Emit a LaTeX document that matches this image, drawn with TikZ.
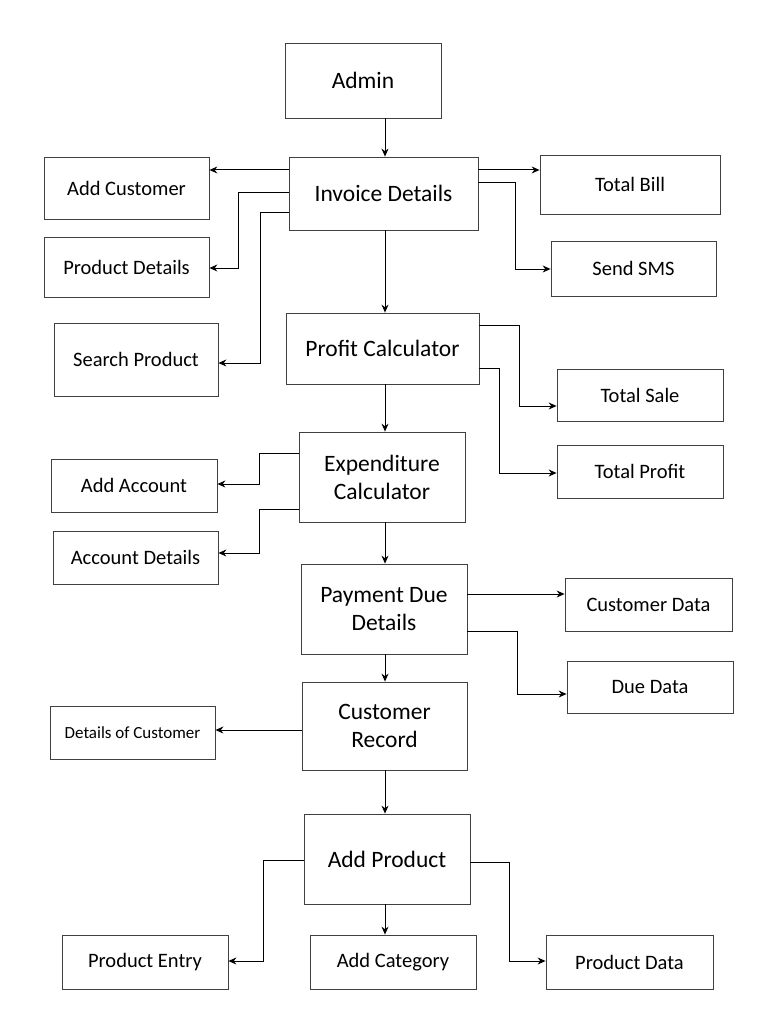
\documentclass[tikz,border=0pt]{standalone}
\usepackage{fontspec}
\setmainfont{Carlito}
\usetikzlibrary{arrows.meta}
\begin{document}
\begin{tikzpicture}[x=1pt,y=-1pt,
  box/.style={draw=black!75,line width=0.8pt,fill=white,align=center,inner sep=0pt},
  big/.style={font=\fontsize{23.5}{28}\selectfont},
  small/.style={font=\fontsize{20.5}{24}\selectfont},
  arr/.style={-{Stealth[length=8pt,width=7pt]},line width=1pt}]
\useasboundingbox (0,0) rectangle (768,1024);
\def\mk#1#2#3#4#5#6#7{\node[box,#6,minimum width={#4-#2},minimum height={#5-#3}] (#1) at ({(#2+#4)/2},{(#3+#5)/2}) {#7};}
\mk{admin}{285}{43}{441}{118}{big}{Admin}
\mk{inv}{289}{157}{478}{230}{big}{Invoice Details}
\mk{addc}{44}{157}{209}{219}{small}{Add Customer}
\mk{tbill}{540}{155}{720}{214}{small}{Total Bill}
\mk{pdet}{44}{237}{209}{297}{small}{Product Details}
\mk{sms}{551}{241}{716}{296}{small}{Send SMS}
\mk{search}{54}{323}{218}{396}{small}{Search Product}
\mk{profit}{286}{313}{479}{384}{big}{Profit Calculator}
\mk{tsale}{557}{369}{723}{421}{small}{Total Sale}
\mk{tprofit}{557}{445}{723}{498}{small}{Total Profit}
\mk{exp}{299}{432}{465}{522}{big}{Expenditure\\Calculator}
\mk{addacc}{51}{459}{217}{512}{small}{Add Account}
\mk{accdet}{53}{531}{218}{584}{small}{Account Details}
\mk{pay}{301}{564}{467}{654}{big}{Payment Due\\Details}
\mk{cdata}{565}{578}{732}{631}{small}{Customer Data}
\mk{ddata}{567}{661}{733}{713}{small}{Due Data}
\mk{crec}{302}{682}{467}{770}{big}{Customer\\Record}
\mk{dcust}{50}{706}{215}{759}{font=\fontsize{17}{20}\selectfont}{Details of Customer}
\mk{addp}{304}{814}{470}{904}{big}{Add Product}
\mk{pentry}{62}{935}{228}{989}{small}{Product Entry}
\mk{addcat}{310}{935}{476}{989}{small}{Add Category}
\mk{pdata}{546}{935}{713}{989}{small}{Product Data}
\draw[arr] (admin.south -| 385,0) -- (inv.north -| 385,0);
\draw[arr] (inv.west |- 0,170) -- (addc.east |- 0,170);
\draw[arr] (inv.west |- 0,193) -| (238,268) -- (pdet.east |- 0,268);
\draw[arr] (inv.west |- 0,213) -| (260,363) -- (search.east |- 0,363);
\draw[arr] (inv.east |- 0,170) -- (tbill.west |- 0,170);
\draw[arr] (inv.east |- 0,183) -| (515,269) -- (sms.west |- 0,269);
\draw[arr] (inv.south -| 385,0) -- (profit.north -| 385,0);
\draw[arr] (profit.east |- 0,325) -| (519,406) -- (tsale.west |- 0,406);
\draw[arr] (profit.east |- 0,368) -| (499,473) -- (tprofit.west |- 0,473);
\draw[arr] (profit.south -| 385,0) -- (exp.north -| 385,0);
\draw[arr] (exp.west |- 0,453) -| (259,484) -- (addacc.east |- 0,484);
\draw[arr] (exp.west |- 0,509) -| (259,553) -- (accdet.east |- 0,553);
\draw[arr] (exp.south -| 385,0) -- (pay.north -| 385,0);
\draw[arr] (pay.east |- 0,594) -- (cdata.west |- 0,594);
\draw[arr] (pay.east |- 0,631) -| (517,694) -- (ddata.west |- 0,694);
\draw[arr] (pay.south -| 385,0) -- (crec.north -| 385,0);
\draw[arr] (crec.west |- 0,730) -- (dcust.east |- 0,730);
\draw[arr] (crec.south -| 385,0) -- (addp.north -| 385,0);
\draw[arr] (addp.west |- 0,860) -| (263,961) -- (pentry.east |- 0,961);
\draw[arr] (addp.east |- 0,862) -| (509,961) -- (pdata.west |- 0,961);
\draw[arr] (addp.south -| 385,0) -- (addcat.north -| 385,0);
\end{tikzpicture}
\end{document}
